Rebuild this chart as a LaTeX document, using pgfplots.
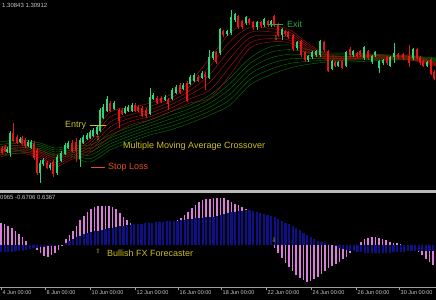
\documentclass[border=0pt]{standalone}
\usepackage{pgfplots}
\pgfplotsset{compat=1.18}
\usepackage{pgfplotstable}
\usepackage{fontspec}
\setmainfont{Liberation Sans}
\newfontfamily\dejavu{DejaVu Sans}

\definecolor{cgreen}{RGB}{40,215,120}
\definecolor{cred}{RGB}{235,20,20}
\definecolor{ribred}{RGB}{165,15,15}
\definecolor{ribgreen}{RGB}{0,115,0}
\definecolor{ylw}{RGB}{205,190,30}
\definecolor{stopc}{RGB}{230,80,30}
\definecolor{exitc}{RGB}{40,170,60}
\definecolor{pinkc}{RGB}{220,125,220}
\definecolor{navyc}{RGB}{15,15,135}
\definecolor{lblc}{RGB}{200,200,200}

% candles: x, body top, body bottom, wick top, wick bottom (pixel rows from top)
\pgfplotstableread{
x bt bb wt wb
7 149 151 147 153
10 133 152 131 157
20 139 141 137 143
28 142 145 140 147
31 142 147 140 149
40 163 172 160 183
43 160 163 158 166
50 165 167 163 170
57 157 172 155 175
61 153 160 151 162
65 145 153 143 155
68 143 147 141 149
80 140 158 138 167
83 137 142 135 144
87 135 138 133 140
90 132 137 130 139
93 130 135 128 137
97 127 133 125 135
100 110 130 108 132
103 107 117 104 119
107 99 110 96 112
114 103 108 101 110
125 108 112 106 114
128 107 110 105 112
132 105 110 103 112
150 97 113 88 115
153 95 98 93 100
165 97 99 95 101
172 90 98 88 100
176 87 92 85 94
183 85 88 83 90
190 77 83 75 85
194 75 80 73 82
202 73 77 71 79
209 58 77 50 79
213 53 58 51 60
220 30 53 28 55
227 32 34 30 36
231 18 33 10 35
235 15 20 13 22
246 18 23 16 25
257 23 27 21 30
264 20 25 18 27
271 22 25 20 27
282 30 35 28 40
297 43 48 41 50
308 57 60 55 62
312 53 57 51 59
316 52 55 50 57
320 42 55 40 57
332 62 68 60 70
338 63 65 61 67
346 53 65 51 67
353 52 55 50 57
364 48 58 46 60
372 57 62 55 64
375 53 55 51 57
379 62 67 60 73
383 61 63 59 65
390 58 65 56 67
394 54 57 43 63
413 50 58 48 60
427 63 65 61 67
}\greencandles

\pgfplotstableread{
x bt bb wt wb
2 148 152 146 154
5 147 150 145 152
13 133 140 123 142
17 137 142 135 144
22 138 143 136 145
25 140 145 138 148
34 143 157 141 160
37 150 172 148 175
47 163 167 161 169
53 162 173 160 177
72 143 150 140 152
76 142 150 138 162
110 103 110 101 112
119 110 120 108 128
122 110 113 108 115
135 105 110 103 112
138 107 110 105 112
142 108 115 106 117
146 110 115 108 118
157 98 102 96 104
161 98 101 96 103
168 100 103 98 110
180 85 92 83 94
187 83 100 81 102
198 77 80 75 82
205 74 76 72 90
216 53 62 51 64
223 32 35 30 37
238 17 27 15 29
242 22 27 20 29
249 20 23 18 25
253 23 28 21 30
261 23 26 21 28
268 22 25 20 27
274 17 25 15 27
278 25 35 23 37
285 32 34 30 36
288 33 37 31 39
293 36 49 34 51
301 42 55 40 57
305 53 60 51 62
324 43 50 41 52
328 52 70 50 72
335 63 65 61 67
342 62 67 60 69
350 50 55 47 57
357 54 56 52 58
360 52 55 50 57
368 52 58 50 60
387 58 63 56 65
398 55 57 53 59
403 55 58 53 60
409 57 63 45 67
417 50 58 48 60
420 58 63 56 65
423 62 65 60 67
431 60 73 58 75
434 72 78 70 80
}\redcandles

\pgfplotstableread{
x r1 r2 r3 r4 r5 r6 g1 g2 g3 g4 g5 g6
0 147 149 151 153 155 157 142 144.6 147.2 149.8 152.4 155
20 143 145 147 149 151 153 140 142.6 145.2 147.8 150.4 153
40 150 151.6 153.2 154.8 156.4 158 143 144.8 146.6 148.4 150.2 152
55 155 157.4 159.8 162.2 164.6 167 148 150 152 154 156 158
70 150 152 154 156 158 160 146 148 150 152 154 156
90 138 141 144 147 150 153 145 148.4 151.8 155.2 158.6 162
110 112 117 122 127 132 137 135 138 141 144 147 150
130 108 111.4 114.8 118.2 121.6 125 127 130 133 136 139 142
150 103 106.4 109.8 113.2 116.6 120 120 123 126 129 132 135
170 95 98.4 101.8 105.2 108.6 112 112 115.6 119.2 122.8 126.4 130
190 82 86.2 90.4 94.6 98.8 103 105 108.6 112.2 115.8 119.4 123
210 58 66 74 82 90 98 95 99 103 107 111 115
230 33 41.4 49.8 58.2 66.6 75 78 83.4 88.8 94.2 99.6 105
250 22 27.2 32.4 37.6 42.8 48 58 63.4 68.8 74.2 79.6 85
270 25 28.4 31.8 35.2 38.6 42 47 52.6 58.2 63.8 69.4 75
290 30 32.6 35.2 37.8 40.4 43 45 49.6 54.2 58.8 63.4 68
310 45 46.8 48.6 50.4 52.2 54 50 52.8 55.6 58.4 61.2 64
330 55 56 57 58 59 60 53 54.8 56.6 58.4 60.2 62
350 56 56.8 57.6 58.4 59.2 60 53 54.8 56.6 58.4 60.2 62
370 54 54.8 55.6 56.4 57.2 58 54 55.4 56.8 58.2 59.6 61
390 56 56.8 57.6 58.4 59.2 60 55 56 57 58 59 60
410 55 56 57 58 59 60 56 56.8 57.6 58.4 59.2 60
436 63 63.6 64.2 64.8 65.4 66 58 58.8 59.6 60.4 61.2 62
}\ribbons

% oscillator: bars every 3.6 px starting at x=1
\pgfplotstableread{
pink navy
22 -7
21 -7
19 -7
17 -7
14 -6
11 -6
8 -6
4 -5
0 -4
-2 -3
-5 -3
-8 -2
-11 -2
-12 -1
-10 -1
-8 -1
-5 0
-1 0
6 2
10 4
14 6
19 8
25 9
29 11
33 12
36 13
38 14
39 14
39 15
39 16
39 17
38 17
36 18
32 19
28 19
25 20
22 20
21 21
19 21
17 21
16 22
15 22
15 22
15 23
16 23
17 23
19 24
21 24
23 24
25 24
27 25
30 25
33 26
37 26
40 27
43 27
45 27
46 28
46 28
47 28
47 29
47 30
47 31
45 32
43 33
41 33
40 34
38 34
36 35
32 35
28 34
24 33
19 32
15 31
10 30
4 29
-3 28
-8 26
-13 24
-18 22
-22 21
-26 19
-30 17
-33 15
-35 12
-37 10
-36 8
-34 6
-32 4
-29 3
-26 2
-23 1
-21 0
-19 -1
-17 -3
-14 -4
-12 -5
-8 -6
-4 -6
-1 -7
3 -7
6 -8
7 -8
8 -8
8 -8
7 -8
6 -8
5 -8
3 -8
2 -7
2 -7
1 -7
0 -7
-1 -6
-2 -6
-4 -6
-7 -6
-10 -6
-14 -6
-17 -6
-20 -6
}\osc

\begin{document}
\begin{tikzpicture}
\fill[black] (0,0) rectangle (436pt,300pt);
\useasboundingbox (0,0) rectangle (436pt,300pt);
\fill[gray!55] (0,107pt) rectangle (436pt,109.5pt);

% ---------------- price panel ----------------
\begin{axis}[
  at={(0,110pt)}, anchor=south west,
  scale only axis, width=436pt, height=190pt,
  xmin=0, xmax=436, ymin=0, ymax=190, y dir=reverse,
  hide axis, clip=true,
]
\foreach \c in {g1,g2,g3,g4,g5,g6}{
  \addplot[ribgreen, line width=0.45pt, smooth, tension=0.5] table[x=x, y=\c] {\ribbons};
}
\foreach \c in {r1,r2,r3,r4,r5,r6}{
  \addplot[ribred, line width=0.45pt, smooth, tension=0.5] table[x=x, y=\c] {\ribbons};
}
% wicks
\addplot[cgreen, line width=0.7pt, mark=none, line cap=butt, -,
  quiver={u=0, v=\thisrow{wb}-\thisrow{wt}}] table[x=x, y=wt] {\greencandles};
\addplot[cred, line width=0.7pt, mark=none, line cap=butt, -,
  quiver={u=0, v=\thisrow{wb}-\thisrow{wt}}] table[x=x, y=wt] {\redcandles};
% bodies
\addplot[cgreen, line width=2.3pt, mark=none, line cap=butt, -,
  quiver={u=0, v=\thisrow{bb}-\thisrow{bt}+1}] table[x=x, y expr=\thisrow{bt}-0.5] {\greencandles};
\addplot[cred, line width=2.3pt, mark=none, line cap=butt, -,
  quiver={u=0, v=\thisrow{bb}-\thisrow{bt}+1}] table[x=x, y expr=\thisrow{bt}-0.5] {\redcandles};

% annotations
\addplot[ylw, line width=1pt] coordinates {(90,125) (106,125)};
\addplot[stopc, line width=1pt] coordinates {(91,167) (105,167)};
\addplot[exitc, line width=1pt] coordinates {(268,25) (283,25)};
\node[anchor=west, inner sep=0pt, text=ylw, font=\fontsize{9}{10}\selectfont] at (axis cs:65,125) {Entry};
\node[anchor=west, inner sep=0pt, text=stopc, font=\fontsize{9}{10}\selectfont] at (axis cs:108,167) {Stop Loss};
\node[anchor=west, inner sep=0pt, text=ylw, font=\fontsize{9}{10}\selectfont] at (axis cs:123,146) {Multiple Moving Average Crossover};
\node[anchor=west, inner sep=0pt, text=exitc, font=\fontsize{9}{10}\selectfont] at (axis cs:287,24) {Exit};
\node[inner sep=0pt, text=ylw, font=\dejavu\fontsize{6}{6}\selectfont] at (axis cs:98,138) {⇧};
\node[inner sep=0pt, text=ylw, font=\dejavu\fontsize{6}{6}\selectfont] at (axis cs:276,38) {⇩};
\node[anchor=west, inner sep=0pt, text=lblc, font=\fontsize{6}{7}\selectfont] at (axis cs:2,5) {1.30843 1.30912};
\end{axis}

% ---------------- oscillator panel ----------------
\begin{axis}[
  at={(0,13pt)}, anchor=south west,
  scale only axis, width=436pt, height=93pt,
  xmin=0, xmax=436, ymin=-42, ymax=51,
  axis x line*=bottom, axis y line=none,
  x axis line style={draw=gray!75, line width=1pt, -},
  ytick=\empty,
  xtick={1,45,90,135,178,221,266,311,356,399},
  xticklabels={4 Jun 00:00, 8 Jun 00:00, 10 Jun 00:00, 12 Jun 00:00, 16 Jun 00:00, 18 Jun 00:00, 22 Jun 00:00, 24 Jun 00:00, 26 Jun 00:00, 30 Jun 00:00},
  tick align=outside, major tick length=3pt,
  xtick style={draw=gray!75, line width=0.6pt},
  xticklabel style={anchor=north west, inner sep=0.5pt, text=lblc, font=\fontsize{5.5}{6}\selectfont, xshift=1pt},
  clip=true,
]
\addplot[ycomb, pinkc, line width=1.5pt, mark=none] table[x expr={\coordindex*3.6+1}, y=pink] {\osc};
\addplot[ycomb, navyc, line width=2.2pt, mark=none] table[x expr={\coordindex*3.6+1}, y=navy] {\osc};
\node[anchor=west, inner sep=0pt, text=ylw, font=\fontsize{9}{10}\selectfont] at (axis cs:107,-8) {Bullish FX Forecaster};
\node[inner sep=0pt, text=ylw, font=\dejavu\fontsize{6}{6}\selectfont] at (axis cs:98,-6) {⇧};
\node[inner sep=0pt, text=ylw, font=\dejavu\fontsize{6}{6}\selectfont] at (axis cs:274,5) {⇩};
\node[anchor=west, inner sep=0pt, text=lblc, font=\fontsize{6}{7}\selectfont] at (axis cs:0,48) {0965 -0.6706 0.6367};
\end{axis}
\end{tikzpicture}
\end{document}
